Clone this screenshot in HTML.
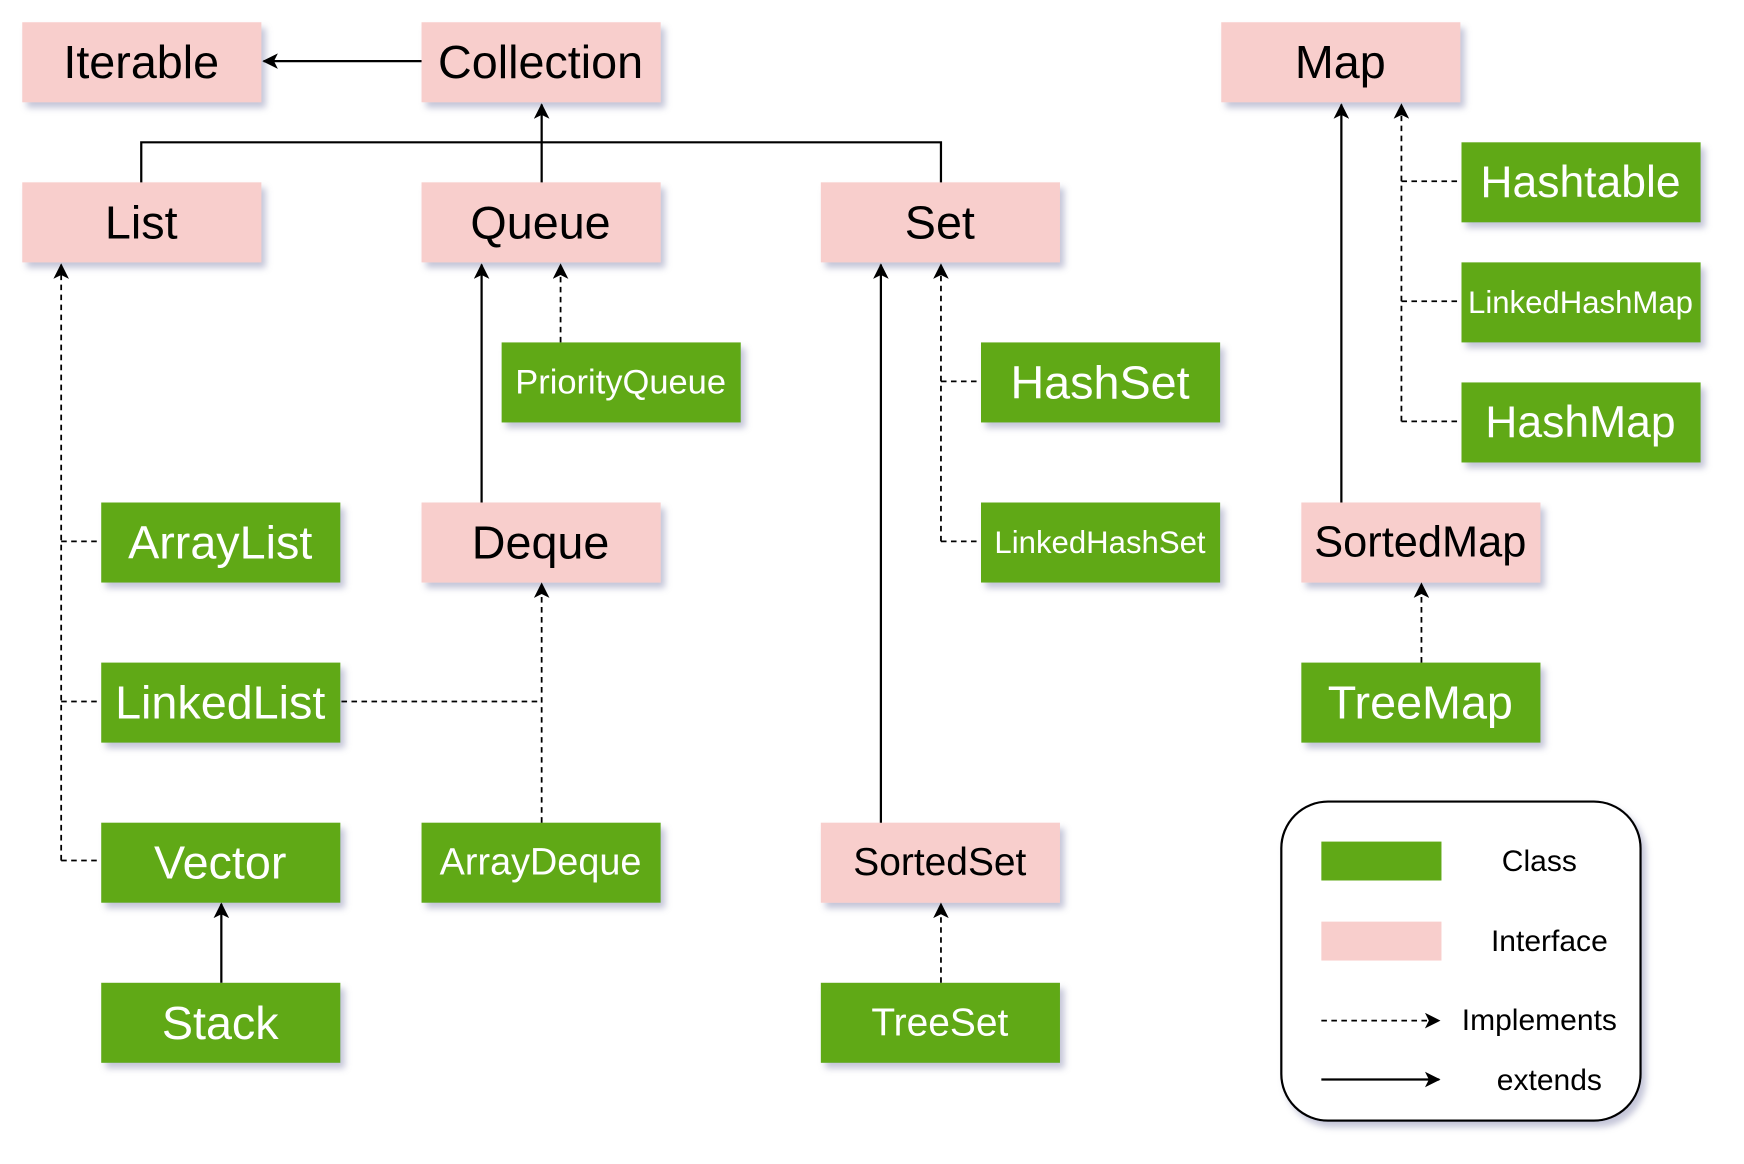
<!DOCTYPE html>
<html><head><meta charset="utf-8"><style>
html,body{margin:0;padding:0;background:#fff;}
svg{display:block}
text{font-family:"Liberation Sans",Arial,sans-serif;text-anchor:middle;dominant-baseline:central}
.p{fill:#f8cecc}.g{fill:#60a917}
.tb{fill:#000}.tw{fill:#fff}
.s{stroke:#000;stroke-width:2;fill:none}
.d{stroke:#000;stroke-width:1.6;fill:none;stroke-dasharray:5 4}
</style></head><body>
<svg width="1744" height="1164" viewBox="0 0 1568 1047" preserveAspectRatio="none" xmlns="http://www.w3.org/2000/svg">
<defs>
<filter id="sh" x="-10%" y="-10%" width="130%" height="140%"><feDropShadow dx="4" dy="5" stdDeviation="3" flood-color="#7a7fa8" flood-opacity="0.45"/></filter>
<marker id="a" viewBox="0 0 12 12" refX="11" refY="6" markerWidth="14" markerHeight="14" markerUnits="userSpaceOnUse" orient="auto"><path d="M0,0 L12,6 L0,12 L3,6 Z" fill="#000"/></marker>
</defs>
<g filter="url(#sh)">
<rect class="p" x="20" y="20" width="215" height="72"/>
<rect class="p" x="379" y="20" width="215" height="72"/>
<rect class="p" x="1098" y="20" width="215" height="72"/>
<rect class="p" x="20" y="164" width="215" height="72"/>
<rect class="p" x="379" y="164" width="215" height="72"/>
<rect class="p" x="738" y="164" width="215" height="72"/>
<rect class="g" x="1314" y="128" width="215" height="72"/>
<rect class="g" x="1314" y="236" width="215" height="72"/>
<rect class="g" x="1314" y="344" width="215" height="72"/>
<rect class="g" x="451" y="308" width="215" height="72"/>
<rect class="g" x="882" y="308" width="215" height="72"/>
<rect class="g" x="91" y="452" width="215" height="72"/>
<rect class="p" x="379" y="452" width="215" height="72"/>
<rect class="g" x="882" y="452" width="215" height="72"/>
<rect class="p" x="1170" y="452" width="215" height="72"/>
<rect class="g" x="91" y="596" width="215" height="72"/>
<rect class="g" x="1170" y="596" width="215" height="72"/>
<rect class="g" x="91" y="740" width="215" height="72"/>
<rect class="g" x="379" y="740" width="215" height="72"/>
<rect class="p" x="738" y="740" width="215" height="72"/>
<rect class="g" x="91" y="884" width="215" height="72"/>
<rect class="g" x="738" y="884" width="215" height="72"/>
<rect x="1152" y="721" width="323" height="287" rx="42" fill="#fff" stroke="#000" stroke-width="2"/>
</g>
<g>
<text class="tb" x="127" y="56" font-size="42">Iterable</text>
<text class="tb" x="486" y="56" font-size="42">Collection</text>
<text class="tb" x="1205" y="56" font-size="42">Map</text>
<text class="tb" x="127" y="200" font-size="42">List</text>
<text class="tb" x="486" y="200" font-size="42">Queue</text>
<text class="tb" x="845" y="200" font-size="42">Set</text>
<text class="tw" x="1421" y="164" font-size="40">Hashtable</text>
<text class="tw" x="1421" y="272" font-size="28">LinkedHashMap</text>
<text class="tw" x="1421" y="380" font-size="40">HashMap</text>
<text class="tw" x="558" y="344" font-size="31">PriorityQueue</text>
<text class="tw" x="989" y="344" font-size="42">HashSet</text>
<text class="tw" x="198" y="488" font-size="42">ArrayList</text>
<text class="tb" x="486" y="488" font-size="42">Deque</text>
<text class="tw" x="989" y="488" font-size="28">LinkedHashSet</text>
<text class="tb" x="1277" y="488" font-size="39">SortedMap</text>
<text class="tw" x="198" y="632" font-size="42">LinkedList</text>
<text class="tw" x="1277" y="632" font-size="42">TreeMap</text>
<text class="tw" x="198" y="776" font-size="42">Vector</text>
<text class="tw" x="486" y="776" font-size="34">ArrayDeque</text>
<text class="tb" x="845" y="776" font-size="35">SortedSet</text>
<text class="tw" x="198" y="920" font-size="42">Stack</text>
<text class="tw" x="845" y="920" font-size="35">TreeSet</text>
</g>
<path class="s" d="M379,55 H237" marker-end="url(#a)"/>
<path class="s" d="M127,164 V128 H846 V164"/>
<path class="s" d="M487,164 V94" marker-end="url(#a)"/>
<path class="d" d="M55,774 V238" marker-end="url(#a)"/>
<path class="d" d="M55,487 H91 M55,631 H91 M55,774 H91"/>
<path class="s" d="M433,452 V238" marker-end="url(#a)"/>
<path class="d" d="M504,308 V238" marker-end="url(#a)"/>
<path class="d" d="M307,631 H487"/>
<path class="d" d="M487,740 V525" marker-end="url(#a)"/>
<path class="s" d="M792,740 V238" marker-end="url(#a)"/>
<path class="d" d="M846,487 V238" marker-end="url(#a)"/>
<path class="d" d="M846,343 H882 M846,487 H882"/>
<path class="d" d="M846,884 V813" marker-end="url(#a)"/>
<path class="s" d="M1206,452 V94" marker-end="url(#a)"/>
<path class="d" d="M1260,379 V94" marker-end="url(#a)"/>
<path class="d" d="M1260,163 H1314 M1260,271 H1314 M1260,379 H1314"/>
<path class="d" d="M1278,596 V525" marker-end="url(#a)"/>
<path class="s" d="M199,884 V813" marker-end="url(#a)"/>
<rect class="g" x="1188" y="757" width="108" height="35"/>
<rect class="p" x="1188" y="829" width="108" height="35"/>
<text class="tb" x="1384" y="775" font-size="27">Class</text>
<text class="tb" x="1393" y="847" font-size="27">Interface</text>
<path class="d" d="M1188,918 H1294" marker-end="url(#a)"/>
<text class="tb" x="1384" y="918" font-size="27">Implements</text>
<path class="s" d="M1188,971 H1294" marker-end="url(#a)"/>
<text class="tb" x="1393" y="972" font-size="27">extends</text>
</svg>
</body></html>
